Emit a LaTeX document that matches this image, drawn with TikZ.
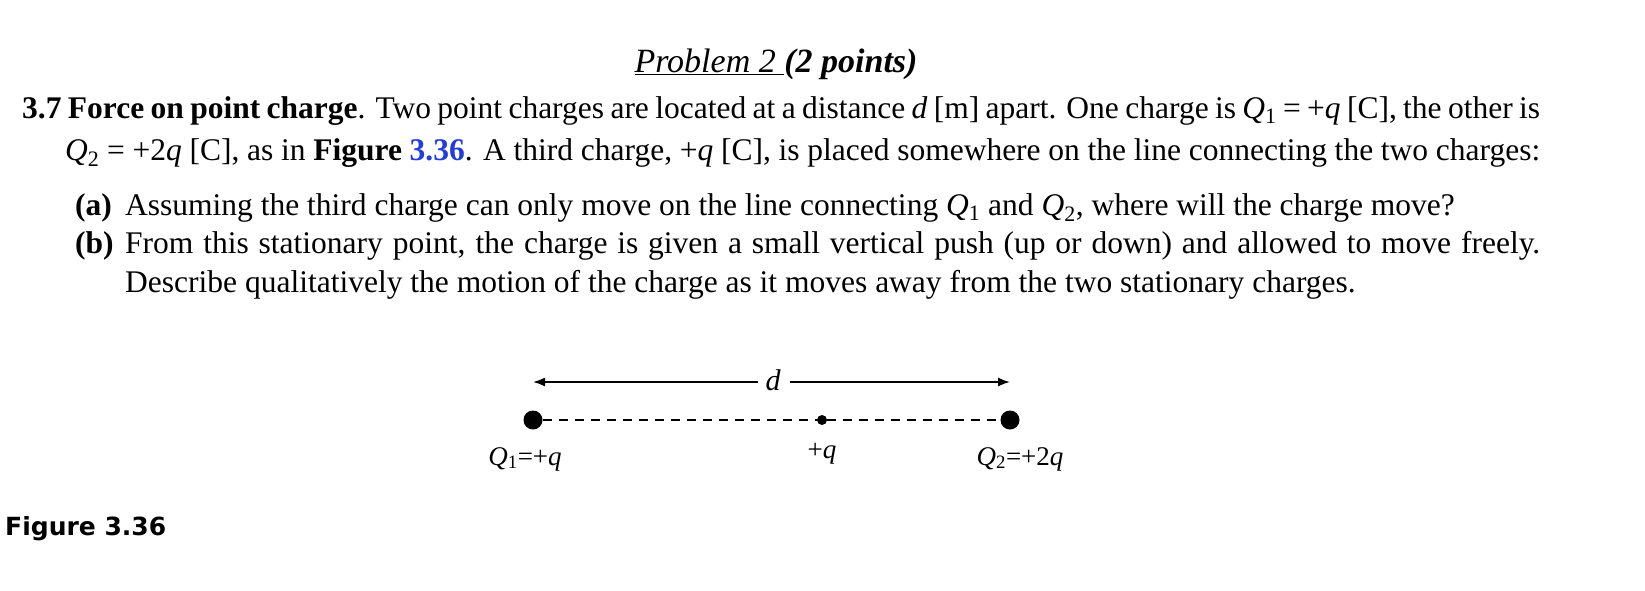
\documentclass[tikz,border=0pt]{standalone}
\usepackage{fontspec}
\usetikzlibrary{arrows.meta}
\setmainfont{Liberation Serif}
\setsansfont{DejaVu Sans}
\definecolor{linkblue}{RGB}{35,60,220}
\newcommand{\Qa}{\textit{Q}\textsubscript{1}}
\newcommand{\Qb}{\textit{Q}\textsubscript{2}}
\begin{document}
\begin{tikzpicture}[x=1pt,y=-1pt,
  txt/.style={anchor=base west,inner sep=0pt,font=\fontsize{31.5}{34}\selectfont},
  lbl/.style={anchor=base,inner sep=0pt,font=\fontsize{27}{30}\selectfont},
  big/.style={circle,fill=black,inner sep=0pt,minimum size=19pt},
  small/.style={circle,fill=black,inner sep=0pt,minimum size=10pt}]
\useasboundingbox (0,0) rectangle (1645,590);
\node[anchor=base,inner sep=0pt,font=\fontsize{34}{36}\selectfont\itshape] (title) at (776,72)
  {\underline{Problem 2 }\textbf{(2 points)}};
\node[txt] (l1) at (22,118) {\makebox[1518pt][s]{\textbf{3.7 Force on point charge}. Two point charges are located at a distance \textit{d} [m] apart. One charge is \Qa{} = +\textit{q} [C], the other is}};
\node[txt] (l2) at (65,160) {\makebox[1475pt][s]{\Qb{} = +2\textit{q} [C], as in \textbf{Figure \textcolor{linkblue}{3.36}}. A third charge, +\textit{q} [C], is placed somewhere on the line connecting the two charges:}};
\node[txt] (a) at (75,215) {\textbf{(a)}};
\node[txt] (at) at (125,215) {Assuming the third charge can only move on the line connecting \Qa{} and \Qb, where will the charge move?};
\node[txt] (b) at (75,253) {\textbf{(b)}};
\node[txt] (bt) at (125,253) {\makebox[1415pt][s]{From this stationary point, the charge is given a small vertical push (up or down) and allowed to move freely.}};
\node[txt] (bt2) at (125,292) {Describe qualitatively the motion of the charge as it moves away from the two stationary charges.};
% figure
\node[big] (q1) at (533,420) {};
\node[small] (q3) at (822,420) {};
\node[big] (q2) at (1010,420) {};
\draw[dashed,line width=1.6pt,dash pattern=on 9pt off 7pt] (q1) -- (q3) -- (q2);
\node[inner sep=0pt,font=\fontsize{30}{30}\selectfont\itshape] (d) at (773,380) {d};
\coordinate (al) at (533,382);
\coordinate (ar) at (1010,382);
\draw[-{Latex[length=12pt,width=9pt]},line width=1.6pt] (758,382) -- (al);
\draw[-{Latex[length=12pt,width=9pt]},line width=1.6pt] (790,382) -- (ar);
\node[lbl] (l1q) at (525,465) {\Qa=+\textit{q}};
\node[lbl] (l3q) at (822,458) {+\textit{q}};
\node[lbl] (l2q) at (1020,465) {\Qb=+2\textit{q}};
\node[anchor=base west,inner sep=0pt,font=\sffamily\bfseries\fontsize{25}{28}\selectfont] (fig) at (5,535) {Figure 3.36};
\end{tikzpicture}
\end{document}
